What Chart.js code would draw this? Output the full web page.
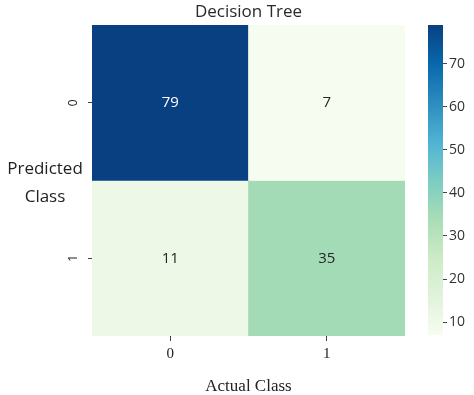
<!DOCTYPE html>
<html>
<head>
<meta charset="utf-8">
<script src="https://cdn.jsdelivr.net/npm/chart.js@4.4.0/dist/chart.umd.min.js"></script>
<style>
  html, body { margin: 0; padding: 0; background: #fff; }
  #wrap { position: relative; width: 474px; height: 395px; overflow: hidden; }
  #heatmap { position: absolute; left: 0; top: 0; }
  #colorbar { position: absolute; left: 400px; top: 0; }
</style>
</head>
<body>
<div id="wrap">
  <canvas id="heatmap" width="474" height="395"></canvas>
  <canvas id="colorbar" width="74" height="395"></canvas>
</div>
<script>
// confusion matrix values (rows = predicted class, columns = actual class)
const titleText = 'Decision Tree';
const actualLabels = ['0', '1'];
const predictedLabels = ['0', '1'];
const rowPred0 = [79, 7];
const rowPred1 = [11, 35];
const matrix = [rowPred0, rowPred1];
const colorbarTicks = [10, 20, 30, 40, 50, 60, 70];

// GnBu colormap stops
const gnbu = ['#f7fcf0', '#e0f3db', '#ccebc5', '#a8ddb5', '#7bccc4', '#4eb3d3', '#2b8cbe', '#0868ac', '#084081'];

const allValues = matrix.flat();
const vmin = Math.min(...allValues);
const vmax = Math.max(...allValues);

function hexToRgb(h) {
  const n = parseInt(h.slice(1), 16);
  return [(n >> 16) & 255, (n >> 8) & 255, n & 255];
}

function colorFor(v) {
  const t = Math.max(0, Math.min(1, (v - vmin) / (vmax - vmin)));
  const pos = t * (gnbu.length - 1);
  const i = Math.min(Math.floor(pos), gnbu.length - 2);
  const f = pos - i;
  const a = hexToRgb(gnbu[i]);
  const b = hexToRgb(gnbu[i + 1]);
  const c = a.map((x, k) => Math.round(x + (b[k] - x) * f));
  return `rgb(${c[0]}, ${c[1]}, ${c[2]})`;
}

// cell annotations + title + y label
const annotatePlugin = {
  id: 'annotate',
  afterDatasetsDraw(chart) {
    const ctx = chart.ctx;
    ctx.save();
    ctx.font = '15px "Open Sans", sans-serif';
    ctx.textAlign = 'center';
    ctx.textBaseline = 'middle';
    matrix.forEach((row, r) => {
      const meta = chart.getDatasetMeta(r);
      meta.data.forEach((bar, c) => {
        const { x, y, base } = bar.getProps(['x', 'y', 'base'], true);
        const v = row[c];
        ctx.fillStyle = (v - vmin) / (vmax - vmin) > 0.6 ? '#ffffff' : '#262626';
        ctx.fillText(String(v), x, (y + base) / 2);
      });
    });
    ctx.restore();
  },
  afterDraw(chart) {
    const { ctx, chartArea } = chart;
    ctx.save();
    ctx.fillStyle = '#2a2a2a';
    ctx.textAlign = 'center';
    ctx.textBaseline = 'middle';
    ctx.font = '17px "Open Sans", sans-serif';
    ctx.fillText(titleText, (chartArea.left + chartArea.right) / 2, 12);
    ctx.fillStyle = '#222222';
    ctx.font = '17px "Open Sans", sans-serif';
    const cy = (chartArea.top + chartArea.bottom) / 2;
    ctx.fillText('Predicted', chartArea.left - 47, cy - 11);
    ctx.fillText('Class', chartArea.left - 47, cy + 17);
    ctx.restore();
  }
};

const datasets = matrix.map((row, r) => ({
  label: 'Predicted ' + predictedLabels[r],
  data: row.map(() => [r, r + 1]),
  backgroundColor: row.map(v => colorFor(v)),
  borderWidth: 0,
  barPercentage: 1,
  categoryPercentage: 1,
  grouped: false
}));

new Chart(document.getElementById('heatmap').getContext('2d'), {
  type: 'bar',
  data: { labels: actualLabels, datasets },
  options: {
    responsive: false,
    animation: false,
    layout: { padding: { top: 25, right: 69, bottom: 0, left: 0 } },
    plugins: {
      legend: { display: false },
      tooltip: { enabled: false }
    },
    scales: {
      x: {
        type: 'category',
        offset: true,
        afterFit: (scale) => { scale.height = 59; },
        grid: { offset: false, drawOnChartArea: false, drawTicks: true, tickLength: 5, color: '#444' },
        border: { display: false },
        ticks: {
          padding: 4,
          color: '#222',
          font: { family: '"Liberation Serif", serif', size: 15 }
        },
        title: {
          display: true,
          text: 'Actual Class',
          color: '#222',
          padding: 0,
          font: { family: '"Liberation Serif", serif', size: 17, lineHeight: 1 }
        }
      },
      y: {
        type: 'linear',
        min: 0,
        max: predictedLabels.length,
        reverse: true,
        afterFit: (scale) => { scale.width = 92; },
        afterBuildTicks: (scale) => {
          scale.ticks = predictedLabels.map((_, i) => ({ value: i + 0.5 }));
        },
        grid: { drawOnChartArea: false, drawTicks: true, tickLength: 4, color: '#444' },
        border: { display: false },
        ticks: {
          minRotation: 90,
          maxRotation: 90,
          crossAlign: 'center',
          padding: 11,
          color: '#222',
          font: { family: '"Open Sans", sans-serif', size: 12 },
          callback: (value, index) => predictedLabels[index]
        }
      }
    }
  },
  plugins: [annotatePlugin]
});

// colour bar
new Chart(document.getElementById('colorbar').getContext('2d'), {
  type: 'bar',
  data: {
    labels: [''],
    datasets: [{
      data: [[vmin, vmax]],
      borderWidth: 0,
      barPercentage: 1,
      categoryPercentage: 1,
      backgroundColor: (c) => {
        const chart = c.chart;
        if (!chart.chartArea) return gnbu[0];
        const ys = chart.scales.y;
        const g = chart.ctx.createLinearGradient(0, ys.getPixelForValue(vmin), 0, ys.getPixelForValue(vmax));
        gnbu.forEach((col, i) => g.addColorStop(i / (gnbu.length - 1), col));
        return g;
      }
    }]
  },
  options: {
    responsive: false,
    animation: false,
    layout: { padding: { top: 25, right: 0, bottom: 60, left: 28 } },
    plugins: { legend: { display: false }, tooltip: { enabled: false } },
    scales: {
      x: { display: false, offset: true },
      y: {
        position: 'right',
        min: vmin,
        max: vmax,
        afterFit: (scale) => { scale.width = 31; },
        afterBuildTicks: (scale) => {
          scale.ticks = colorbarTicks.map(v => ({ value: v }));
        },
        grid: { drawOnChartArea: false, drawTicks: true, tickLength: 4, color: '#444' },
        border: { display: false },
        ticks: {
          padding: 2,
          color: '#333',
          font: { family: '"Open Sans", sans-serif', size: 14 }
        }
      }
    }
  }
});
</script>
</body>
</html>
